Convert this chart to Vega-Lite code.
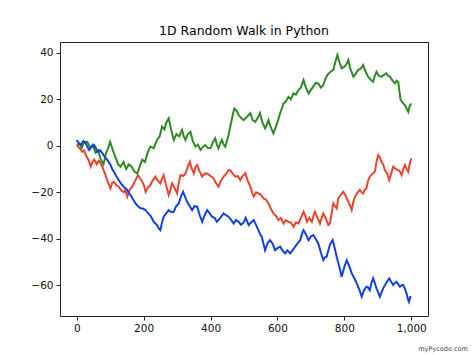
{
  "$schema": "https://vega.github.io/schema/vega-lite/v6.json",
  "width": 368,
  "height": 274,
  "autosize": "none",
  "padding": {"left": 60, "top": 42, "right": 46, "bottom": 39},
  "background": "white",
  "config": {
    "view": {"stroke": "#222", "strokeWidth": 1},
    "font": "DejaVu Sans"
  },
  "title": {"text": "1D Random Walk in Python", "fontSize": 12.5, "fontWeight": "normal", "color": "#000", "font": "DejaVu Sans", "offset": 5},
  "datasets": {
    "walk": [
      {"s":"1","x":0,"y":0},{"s":"1","x":8,"y":1},{"s":"1","x":15,"y":-1},{"s":"1","x":22,"y":1.5},{"s":"1","x":32,"y":1.7},{"s":"1","x":40,"y":-1},{"s":"1","x":48,"y":0.5},{"s":"1","x":56,"y":-3},{"s":"1","x":64,"y":-2},{"s":"1","x":72,"y":-6},{"s":"1","x":80,"y":-8},{"s":"1","x":88,"y":-3},{"s":"1","x":94,"y":-1},{"s":"1","x":100,"y":1.7},{"s":"1","x":108,"y":-2},{"s":"1","x":116,"y":-5},{"s":"1","x":124,"y":-8},{"s":"1","x":131,"y":-9},{"s":"1","x":140,"y":-7},{"s":"1","x":148,"y":-10},{"s":"1","x":156,"y":-8},{"s":"1","x":164,"y":-9},{"s":"1","x":172,"y":-11},{"s":"1","x":181,"y":-12},{"s":"1","x":188,"y":-9},{"s":"1","x":196,"y":-6},{"s":"1","x":204,"y":-7},{"s":"1","x":212,"y":-3},{"s":"1","x":220,"y":-0.4},{"s":"1","x":230,"y":-1},{"s":"1","x":240,"y":2.5},{"s":"1","x":248,"y":4},{"s":"1","x":255,"y":8.2},{"s":"1","x":262,"y":7},{"s":"1","x":268,"y":10},{"s":"1","x":275,"y":11.8},{"s":"1","x":282,"y":7},{"s":"1","x":290,"y":2.5},{"s":"1","x":298,"y":5},{"s":"1","x":306,"y":4},{"s":"1","x":315,"y":6.8},{"s":"1","x":320,"y":4},{"s":"1","x":325,"y":2.5},{"s":"1","x":332,"y":5},{"s":"1","x":340,"y":6},{"s":"1","x":347,"y":2},{"s":"1","x":355,"y":-0.4},{"s":"1","x":362,"y":0.5},{"s":"1","x":370,"y":-1.8},{"s":"1","x":377,"y":-0.5},{"s":"1","x":384,"y":0.3},{"s":"1","x":392,"y":-1},{"s":"1","x":400,"y":-1.1},{"s":"1","x":407,"y":1.5},{"s":"1","x":414,"y":3.2},{"s":"1","x":419,"y":0.5},{"s":"1","x":424,"y":-1.1},{"s":"1","x":429,"y":1},{"s":"1","x":434,"y":2.5},{"s":"1","x":439,"y":0.5},{"s":"1","x":444,"y":-0.4},{"s":"1","x":449,"y":2},{"s":"1","x":454,"y":4.6},{"s":"1","x":460,"y":9},{"s":"1","x":466,"y":13},{"s":"1","x":471,"y":16},{"s":"1","x":478,"y":15},{"s":"1","x":484,"y":13.2},{"s":"1","x":491,"y":12},{"s":"1","x":499,"y":11},{"s":"1","x":506,"y":12},{"s":"1","x":514,"y":13.2},{"s":"1","x":519,"y":14},{"s":"1","x":526,"y":11},{"s":"1","x":534,"y":10.3},{"s":"1","x":541,"y":12},{"s":"1","x":548,"y":14},{"s":"1","x":555,"y":10},{"s":"1","x":563,"y":7.5},{"s":"1","x":568,"y":9},{"s":"1","x":573,"y":11},{"s":"1","x":580,"y":8},{"s":"1","x":588,"y":5.3},{"s":"1","x":595,"y":8},{"s":"1","x":602,"y":11},{"s":"1","x":608,"y":14},{"s":"1","x":613,"y":16},{"s":"1","x":618,"y":18.2},{"s":"1","x":625,"y":19},{"s":"1","x":633,"y":21},{"s":"1","x":640,"y":20},{"s":"1","x":648,"y":22.5},{"s":"1","x":655,"y":22},{"s":"1","x":663,"y":24},{"s":"1","x":670,"y":25},{"s":"1","x":678,"y":28.3},{"s":"1","x":685,"y":25},{"s":"1","x":693,"y":22.5},{"s":"1","x":700,"y":24},{"s":"1","x":707,"y":25.4},{"s":"1","x":714,"y":27},{"s":"1","x":722,"y":26.8},{"s":"1","x":730,"y":25},{"s":"1","x":737,"y":26},{"s":"1","x":744,"y":29},{"s":"1","x":752,"y":31},{"s":"1","x":759,"y":31.8},{"s":"1","x":767,"y":32.6},{"s":"1","x":773,"y":36},{"s":"1","x":779,"y":39},{"s":"1","x":785,"y":36},{"s":"1","x":792,"y":33.3},{"s":"1","x":800,"y":34},{"s":"1","x":806,"y":35},{"s":"1","x":812,"y":36.9},{"s":"1","x":818,"y":33},{"s":"1","x":827,"y":29.7},{"s":"1","x":834,"y":31},{"s":"1","x":841,"y":32.6},{"s":"1","x":848,"y":33},{"s":"1","x":856,"y":34.7},{"s":"1","x":863,"y":32},{"s":"1","x":871,"y":29.7},{"s":"1","x":878,"y":28.5},{"s":"1","x":886,"y":27.5},{"s":"1","x":891,"y":30},{"s":"1","x":896,"y":31.8},{"s":"1","x":903,"y":30},{"s":"1","x":911,"y":29.7},{"s":"1","x":918,"y":30.5},{"s":"1","x":926,"y":31.1},{"s":"1","x":931,"y":30},{"s":"1","x":936,"y":29.7},{"s":"1","x":944,"y":28},{"s":"1","x":951,"y":26.8},{"s":"1","x":956,"y":28},{"s":"1","x":961,"y":27.5},{"s":"1","x":965,"y":23},{"s":"1","x":968,"y":19.7},{"s":"1","x":974,"y":18.5},{"s":"1","x":981,"y":17.5},{"s":"1","x":986,"y":16},{"s":"1","x":991,"y":14.6},{"s":"1","x":995,"y":17},{"s":"1","x":1000,"y":18.2},

      {"s":"2","x":0,"y":0.3},{"s":"2","x":8,"y":-1},{"s":"2","x":17,"y":-2.6},{"s":"2","x":22,"y":-2},{"s":"2","x":27,"y":-4},{"s":"2","x":35,"y":-6},{"s":"2","x":42,"y":-9},{"s":"2","x":47,"y":-7},{"s":"2","x":52,"y":-6},{"s":"2","x":60,"y":-8},{"s":"2","x":66,"y":-6.5},{"s":"2","x":72,"y":-7.6},{"s":"2","x":79,"y":-10},{"s":"2","x":86,"y":-12.6},{"s":"2","x":94,"y":-16},{"s":"2","x":101,"y":-18.3},{"s":"2","x":106,"y":-16},{"s":"2","x":111,"y":-15.5},{"s":"2","x":118,"y":-17},{"s":"2","x":126,"y":-17.6},{"s":"2","x":132,"y":-19},{"s":"2","x":140,"y":-20},{"s":"2","x":145,"y":-19},{"s":"2","x":151,"y":-21.9},{"s":"2","x":158,"y":-19},{"s":"2","x":166,"y":-17.6},{"s":"2","x":175,"y":-15},{"s":"2","x":183,"y":-12.6},{"s":"2","x":189,"y":-14},{"s":"2","x":196,"y":-15.5},{"s":"2","x":201,"y":-17},{"s":"2","x":206,"y":-19.8},{"s":"2","x":213,"y":-18},{"s":"2","x":220,"y":-16.9},{"s":"2","x":227,"y":-15},{"s":"2","x":235,"y":-13.3},{"s":"2","x":242,"y":-15},{"s":"2","x":250,"y":-16.2},{"s":"2","x":255,"y":-14},{"s":"2","x":260,"y":-12.6},{"s":"2","x":267,"y":-17},{"s":"2","x":275,"y":-21.2},{"s":"2","x":280,"y":-19},{"s":"2","x":285,"y":-16.2},{"s":"2","x":292,"y":-18},{"s":"2","x":300,"y":-20.5},{"s":"2","x":305,"y":-16},{"s":"2","x":310,"y":-12.6},{"s":"2","x":318,"y":-13},{"s":"2","x":325,"y":-11.9},{"s":"2","x":332,"y":-9},{"s":"2","x":338,"y":-6.9},{"s":"2","x":344,"y":-10},{"s":"2","x":350,"y":-11.9},{"s":"2","x":355,"y":-9},{"s":"2","x":360,"y":-8.3},{"s":"2","x":367,"y":-11},{"s":"2","x":375,"y":-13.3},{"s":"2","x":382,"y":-12},{"s":"2","x":390,"y":-11.9},{"s":"2","x":400,"y":-13},{"s":"2","x":409,"y":-14},{"s":"2","x":416,"y":-16},{"s":"2","x":424,"y":-17.6},{"s":"2","x":431,"y":-15},{"s":"2","x":439,"y":-13.3},{"s":"2","x":447,"y":-12},{"s":"2","x":453,"y":-10.5},{"s":"2","x":459,"y":-10.5},{"s":"2","x":466,"y":-12},{"s":"2","x":474,"y":-13.3},{"s":"2","x":481,"y":-13},{"s":"2","x":489,"y":-14.8},{"s":"2","x":496,"y":-13},{"s":"2","x":504,"y":-11.9},{"s":"2","x":511,"y":-15},{"s":"2","x":519,"y":-17.6},{"s":"2","x":524,"y":-20},{"s":"2","x":529,"y":-21.9},{"s":"2","x":536,"y":-20},{"s":"2","x":543,"y":-20.5},{"s":"2","x":550,"y":-21},{"s":"2","x":558,"y":-22.6},{"s":"2","x":565,"y":-23},{"s":"2","x":573,"y":-24.8},{"s":"2","x":580,"y":-27},{"s":"2","x":588,"y":-29.1},{"s":"2","x":595,"y":-30},{"s":"2","x":603,"y":-32},{"s":"2","x":610,"y":-31},{"s":"2","x":618,"y":-33.4},{"s":"2","x":625,"y":-32},{"s":"2","x":633,"y":-32.7},{"s":"2","x":640,"y":-33},{"s":"2","x":648,"y":-34.8},{"s":"2","x":655,"y":-33},{"s":"2","x":663,"y":-33.4},{"s":"2","x":670,"y":-31},{"s":"2","x":678,"y":-28.4},{"s":"2","x":683,"y":-30},{"s":"2","x":688,"y":-32.7},{"s":"2","x":695,"y":-31},{"s":"2","x":703,"y":-32.7},{"s":"2","x":708,"y":-30},{"s":"2","x":712,"y":-28.4},{"s":"2","x":720,"y":-31},{"s":"2","x":727,"y":-33.4},{"s":"2","x":732,"y":-31},{"s":"2","x":737,"y":-29.1},{"s":"2","x":744,"y":-31},{"s":"2","x":752,"y":-34.1},{"s":"2","x":757,"y":-33.4},{"s":"2","x":762,"y":-29},{"s":"2","x":767,"y":-24.8},{"s":"2","x":772,"y":-26},{"s":"2","x":777,"y":-26.9},{"s":"2","x":782,"y":-22.5},{"s":"2","x":790,"y":-21},{"s":"2","x":797,"y":-19.8},{"s":"2","x":802,"y":-21},{"s":"2","x":807,"y":-22.6},{"s":"2","x":815,"y":-25},{"s":"2","x":822,"y":-27.7},{"s":"2","x":827,"y":-24},{"s":"2","x":832,"y":-21.9},{"s":"2","x":840,"y":-20},{"s":"2","x":846,"y":-19},{"s":"2","x":851,"y":-20},{"s":"2","x":856,"y":-20.5},{"s":"2","x":861,"y":-19},{"s":"2","x":866,"y":-18.3},{"s":"2","x":871,"y":-15},{"s":"2","x":876,"y":-13.3},{"s":"2","x":884,"y":-12},{"s":"2","x":891,"y":-11.2},{"s":"2","x":896,"y":-7},{"s":"2","x":901,"y":-4},{"s":"2","x":906,"y":-5},{"s":"2","x":911,"y":-6.9},{"s":"2","x":916,"y":-8},{"s":"2","x":921,"y":-10.5},{"s":"2","x":928,"y":-12},{"s":"2","x":934,"y":-14.8},{"s":"2","x":940,"y":-12},{"s":"2","x":946,"y":-9},{"s":"2","x":953,"y":-10},{"s":"2","x":961,"y":-10.5},{"s":"2","x":966,"y":-11},{"s":"2","x":971,"y":-12.6},{"s":"2","x":976,"y":-10},{"s":"2","x":981,"y":-8.3},{"s":"2","x":986,"y":-10},{"s":"2","x":991,"y":-11.2},{"s":"2","x":995,"y":-8},{"s":"2","x":1000,"y":-5.4},

      {"s":"3","x":0,"y":2.5},{"s":"3","x":6,"y":1},{"s":"3","x":12,"y":0.3},{"s":"3","x":20,"y":2},{"s":"3","x":27,"y":1},{"s":"3","x":32,"y":-0.5},{"s":"3","x":37,"y":-1.8},{"s":"3","x":45,"y":-0.5},{"s":"3","x":52,"y":0.3},{"s":"3","x":57,"y":-1},{"s":"3","x":62,"y":-2.6},{"s":"3","x":70,"y":-2},{"s":"3","x":77,"y":-3.3},{"s":"3","x":85,"y":-5},{"s":"3","x":92,"y":-6.2},{"s":"3","x":101,"y":-8.3},{"s":"3","x":106,"y":-10},{"s":"3","x":111,"y":-11.2},{"s":"3","x":118,"y":-13},{"s":"3","x":126,"y":-14.8},{"s":"3","x":131,"y":-16},{"s":"3","x":136,"y":-16.9},{"s":"3","x":143,"y":-18},{"s":"3","x":151,"y":-19},{"s":"3","x":156,"y":-20.5},{"s":"3","x":161,"y":-21.2},{"s":"3","x":168,"y":-23},{"s":"3","x":176,"y":-24.8},{"s":"3","x":183,"y":-26},{"s":"3","x":191,"y":-26.9},{"s":"3","x":198,"y":-27},{"s":"3","x":206,"y":-27.7},{"s":"3","x":213,"y":-29},{"s":"3","x":220,"y":-30},{"s":"3","x":226,"y":-31.5},{"s":"3","x":230,"y":-32.7},{"s":"3","x":235,"y":-33.4},{"s":"3","x":240,"y":-34.1},{"s":"3","x":245,"y":-35.5},{"s":"3","x":250,"y":-36.3},{"s":"3","x":255,"y":-33},{"s":"3","x":260,"y":-30.5},{"s":"3","x":268,"y":-29},{"s":"3","x":275,"y":-27.7},{"s":"3","x":282,"y":-28.5},{"s":"3","x":290,"y":-28.4},{"s":"3","x":297,"y":-26},{"s":"3","x":305,"y":-24.8},{"s":"3","x":311,"y":-22},{"s":"3","x":318,"y":-19.8},{"s":"3","x":324,"y":-22},{"s":"3","x":330,"y":-24.1},{"s":"3","x":338,"y":-26},{"s":"3","x":345,"y":-27.7},{"s":"3","x":352,"y":-26},{"s":"3","x":360,"y":-26.2},{"s":"3","x":368,"y":-30},{"s":"3","x":375,"y":-32.7},{"s":"3","x":382,"y":-30},{"s":"3","x":390,"y":-27.7},{"s":"3","x":397,"y":-29},{"s":"3","x":404,"y":-30.5},{"s":"3","x":412,"y":-31},{"s":"3","x":419,"y":-32.7},{"s":"3","x":429,"y":-31},{"s":"3","x":439,"y":-29.1},{"s":"3","x":447,"y":-30},{"s":"3","x":454,"y":-30.5},{"s":"3","x":462,"y":-32},{"s":"3","x":469,"y":-33.4},{"s":"3","x":476,"y":-32},{"s":"3","x":484,"y":-32.7},{"s":"3","x":491,"y":-34},{"s":"3","x":499,"y":-33},{"s":"3","x":505,"y":-31},{"s":"3","x":514,"y":-34.1},{"s":"3","x":521,"y":-33},{"s":"3","x":529,"y":-32},{"s":"3","x":536,"y":-34},{"s":"3","x":543,"y":-36.3},{"s":"3","x":548,"y":-38},{"s":"3","x":553,"y":-39.1},{"s":"3","x":558,"y":-42},{"s":"3","x":563,"y":-44.9},{"s":"3","x":570,"y":-42},{"s":"3","x":578,"y":-40.6},{"s":"3","x":585,"y":-42},{"s":"3","x":593,"y":-44.9},{"s":"3","x":600,"y":-44},{"s":"3","x":608,"y":-43.4},{"s":"3","x":615,"y":-45},{"s":"3","x":623,"y":-46.3},{"s":"3","x":630,"y":-45},{"s":"3","x":638,"y":-46.3},{"s":"3","x":645,"y":-45},{"s":"3","x":653,"y":-43.4},{"s":"3","x":660,"y":-42},{"s":"3","x":668,"y":-40.6},{"s":"3","x":673,"y":-38},{"s":"3","x":678,"y":-36.3},{"s":"3","x":685,"y":-38},{"s":"3","x":693,"y":-40.6},{"s":"3","x":700,"y":-39},{"s":"3","x":707,"y":-38.4},{"s":"3","x":714,"y":-40},{"s":"3","x":722,"y":-42},{"s":"3","x":730,"y":-46},{"s":"3","x":737,"y":-49.2},{"s":"3","x":742,"y":-48},{"s":"3","x":747,"y":-47.7},{"s":"3","x":752,"y":-45},{"s":"3","x":757,"y":-42.5},{"s":"3","x":765,"y":-40.6},{"s":"3","x":771,"y":-44},{"s":"3","x":777,"y":-47.7},{"s":"3","x":785,"y":-52},{"s":"3","x":792,"y":-56.3},{"s":"3","x":800,"y":-52},{"s":"3","x":807,"y":-49.2},{"s":"3","x":815,"y":-52},{"s":"3","x":822,"y":-54.9},{"s":"3","x":830,"y":-57},{"s":"3","x":837,"y":-59.2},{"s":"3","x":845,"y":-62},{"s":"3","x":852,"y":-64.9},{"s":"3","x":859,"y":-62},{"s":"3","x":866,"y":-60.6},{"s":"3","x":871,"y":-61},{"s":"3","x":876,"y":-62.1},{"s":"3","x":881,"y":-59},{"s":"3","x":886,"y":-57},{"s":"3","x":891,"y":-59},{"s":"3","x":896,"y":-61.3},{"s":"3","x":901,"y":-63},{"s":"3","x":906,"y":-64.9},{"s":"3","x":911,"y":-63},{"s":"3","x":916,"y":-61.3},{"s":"3","x":925,"y":-59},{"s":"3","x":934,"y":-57},{"s":"3","x":940,"y":-58.5},{"s":"3","x":946,"y":-59.9},{"s":"3","x":951,"y":-59},{"s":"3","x":956,"y":-58.5},{"s":"3","x":961,"y":-59.5},{"s":"3","x":966,"y":-60.6},{"s":"3","x":971,"y":-60},{"s":"3","x":976,"y":-59.9},{"s":"3","x":981,"y":-61.5},{"s":"3","x":986,"y":-63.5},{"s":"3","x":990,"y":-66},{"s":"3","x":993,"y":-67.1},{"s":"3","x":997,"y":-65},{"s":"3","x":1000,"y":-64.9}
    ],
    "wm": [{"x": 1095, "y": -87.4, "t": "myPycode.com"}]
  },
  "layer": [
    {
      "data": {"name": "walk"},
      "mark": {"type": "line", "strokeWidth": 2, "strokeJoin": "miter", "clip": true},
      "encoding": {
        "x": {"field": "x", "type": "quantitative",
          "scale": {"domain": [-50, 1050], "nice": false, "zero": false},
          "axis": {"values": [0, 200, 400, 600, 800, 1000], "grid": false, "domain": false, "title": null,
            "tickColor": "#222", "tickSize": 4, "labelColor": "#111", "labelFontSize": 10.5, "labelFont": "DejaVu Sans", "labelPadding": 3, "labelFlush": false}},
        "y": {"field": "y", "type": "quantitative",
          "scale": {"domain": [-73.2, 44.6], "nice": false, "zero": false},
          "axis": {"values": [-60, -40, -20, 0, 20, 40], "grid": false, "domain": false, "title": null,
            "tickColor": "#222", "tickSize": 4, "labelColor": "#111", "labelFontSize": 10.5, "labelFont": "DejaVu Sans", "labelPadding": 3,
            "labelExpr": "replace(datum.label, '-', '\u2212')"}},
        "color": {"field": "s", "type": "nominal",
          "scale": {"domain": ["1", "2", "3"], "range": ["#2d8a24", "#e8452c", "#1240e0"]},
          "legend": null},
        "order": {"field": "x", "type": "quantitative"}
      }
    },
    {
      "data": {"name": "wm"},
      "mark": {"type": "text", "fontSize": 6.5, "align": "center", "baseline": "middle", "font": "DejaVu Sans"},
      "encoding": {
        "x": {"field": "x", "type": "quantitative"},
        "y": {"field": "y", "type": "quantitative"},
        "text": {"field": "t"},
        "color": {"value": "#444444"}
      }
    }
  ]
}
